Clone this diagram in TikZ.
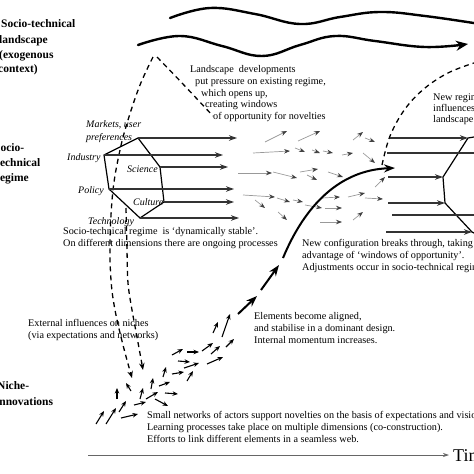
\documentclass[tikz,border=0pt]{standalone}
\usepackage{fontspec}
\setmainfont{Liberation Serif}
\usetikzlibrary{arrows.meta}
\tikzset{lvl/.style = {font=\fontsize{11.5}{15}\selectfont\bfseries, anchor=base west, inner sep=0}}
\tikzset{txt/.style = {font=\fontsize{10.2}{12}\selectfont, anchor=base west, inner sep=0}}
\tikzset{dim/.style = {font=\fontsize{10}{12}\selectfont\itshape, anchor=base west, inner sep=0}}
\tikzset{reg/.style = {draw=black!80, line width=1.2pt, -{Stealth[length=8pt,width=5.5pt]}}}
\tikzset{flow/.style = {draw=black!40, line width=0.7pt, -{Stealth[length=6pt,width=4.5pt,color=black!75]}}}
\tikzset{nich/.style = {line width=1.1pt, -{Stealth[length=5.5pt,width=4.5pt]}}}
\tikzset{dsh/.style = {line width=1.3pt, dash pattern=on 5pt off 4pt}}
\tikzset{wave/.style = {line width=2.4pt, line cap=round}}
\tikzset{traj/.style = {line width=2pt, -{Stealth[length=11pt,width=8pt]}}}

\begin{document}
\begin{tikzpicture}[x=1pt, y=-1pt]
  \useasboundingbox (0,0) rectangle (474,474);
  \clip (0,0) rectangle (474,474);

  % levels
  \node[lvl] (ls1) at (1,27) {Socio-technical};
  \node[lvl] (ls2) at (-1,43) {landscape};
  \node[lvl] (ls3) at (-1,58) {(exogenous};
  \node[lvl] (ls4) at (-2,72) {context)};
  \node[lvl] (rg1) at (-6,151) {Socio-};
  \node[lvl] (rg2) at (-4,166) {technical};
  \node[lvl] (rg3) at (-5,181) {regime};
  \node[lvl] (ni1) at (-3,389) {Niche-};
  \node[lvl] (ni2) at (-4,405) {innovations};

  % landscape
  \draw[wave] plot[smooth, tension=0.7] coordinates
    {(170,18) (210,8) (255,14) (300,24) (340,17) (380,12) (425,16) (480,24)};
  \draw[wave, -{Stealth[length=12pt,width=10pt]}] plot[smooth, tension=0.7] coordinates
    {(138,45) (180,36) (222,46) (262,56) (300,45) (335,36) (375,41) (425,47) (468,44)};

  \node[txt] (ld1) at (190,72) {Landscape\ \ developments};
  \node[txt] (ld2) at (195,84) {put pressure on existing regime,};
  \node[txt] (ld3) at (201,96) {which opens up,};
  \node[txt] (ld4) at (205,107) {creating windows};
  \node[txt] (ld5) at (213,119) {of opportunity for novelties};
  \node[txt] (nr1) at (433,100) {New regime};
  \node[txt] (nr2) at (433,111) {influences};
  \node[txt] (nr3) at (433,122) {landscape};

  % external influences
  \draw[dsh] plot[smooth, tension=0.6] coordinates {(157,57) (182,83) (213,116)};
  \draw[dsh, -{Stealth[length=7pt,width=5.5pt]}] plot[smooth, tension=0.6] coordinates
    {(153,57) (140,85) (128,120) (120,150) (113,190) (110,240) (111,280) (115,310) (123,345) (132,378)};
  \draw[dsh, -{Stealth[length=7pt,width=5.5pt]}] plot[smooth, tension=0.6] coordinates
    {(126,208) (127,250) (128,283) (132,310) (137,337) (143,370)};
  \draw[dsh] plot[smooth, tension=0.6] coordinates
    {(382,165) (390,136) (405,109) (425,88) (450,72) (480,61)};

  % old regime
  \coordinate (mk) at (138,138);
  \coordinate (in) at (104,155);
  \coordinate (sc) at (160,167);
  \coordinate (po) at (109,189);
  \coordinate (cu) at (164,202);
  \coordinate (te) at (140,218);
  \draw[line width=1.2pt] (mk) -- (sc) -- (cu) -- (te) -- (po) -- (in) -- cycle;
  \draw[reg] (mk) -- ++(99,0);
  \draw[reg] (in) -- ++(119,0);
  \draw[reg] (sc) -- ++(68,0);
  \draw[reg] (po) -- ++(125,0);
  \draw[reg] (cu) -- ++(70,0);
  \draw[reg] (te) -- ++(99,0);
  \node[dim] (dmk) at (86,127) {Markets, user};
  \node[dim] (dpr) at (86,140) {preferences};
  \node[dim] (din) at (67,160) {Industry};
  \node[dim] (dsc) at (127,172) {Science};
  \node[dim] (dpo) at (78,193) {Policy};
  \node[dim] (dcu) at (133,205) {Culture};
  \node[dim] (dte) at (88,224) {Technology};
  \node[txt] (st1) at (63,234) {Socio-technical regime\ \ is ‘dynamically stable’.};
  \node[txt] (st2) at (63,246) {On different dimensions there are ongoing processes};

  % windows of opportunity
  \foreach \xa/\ya/\xb/\yb in {265/142/287/131, 298/141/320/131, 253/153/290/151,
      295/148/305/152, 312/150/320/153, 323/151/333/153, 342/155/353/153,
      353/140/363/132, 365/138/375/142, 363/153/375/163, 238/173/272/173,
      273/172/297/178, 300/172/318/169, 307/175/317/180, 328/172/343/177,
      243/195/275/197, 255/200/265/208, 277/198/290/202, 293/200/303/202,
      278/212/287/220, 305/205/322/208, 322/198/340/197, 325/208/342/208,
      348/197/365/193, 365/198/383/199, 320/222/342/222, 353/220/363/212,
      375/187/385/177}
    \draw[flow] (\xa,\ya) -- (\xb,\yb);

  % new regime
  \coordinate (nmk) at (468,138);
  \coordinate (nsc) at (443,177);
  \coordinate (ncu) at (445,203);
  \coordinate (nte) at (472,232);
  \draw[line width=1.2pt] (480,136) -- (nmk) -- (nsc) -- (ncu) -- (nte) -- (480,236);
  \draw[reg] (390,138) -- (nmk);
  \draw[draw=black!80, line width=1.2pt] (387,153) -- (480,153);
  \draw[reg] (388,177) -- (nsc);
  \draw[reg] (388,203) -- (ncu);
  \draw[draw=black!80, line width=1.2pt] (392,215) -- (480,215);
  \draw[reg] (386,232) -- (nte);

  % niches
  \foreach \xa/\ya/\xb/\yb in {96/424/104/411, 106/424/116/408, 121/418/138/414,
      119/412/126/401, 134/405/146/402, 117/399/117/388, 131/391/126/383,
      140/399/143/388, 146/399/158/392, 155/399/168/406, 165/393/178/394,
      151/389/153/378, 159/386/170/382, 163/377/166/367, 172/374/184/372,
      187/381/193/371, 172/355/183/349, 178/361/190/362, 187/352/199/352,
      184/368/199/363, 202/351/213/343, 207/364/223/357, 211/354/220/346,
      213/333/218/322, 222/337/230/314, 226/347/234/339}
    \draw[nich] (\xa,\ya) -- (\xb,\yb);

  \draw[traj] (238,314) -- (257,296);
  \draw[traj] (261,290) -- (279,265);
  \draw[traj] (283,258) .. controls (305,205) and (340,170) .. (395,168);

  \node[txt] (nc1) at (302,246) {New configuration breaks through, taking};
  \node[txt] (nc2) at (302,258) {advantage of ‘windows of opportunity’.};
  \node[txt] (nc3) at (302,270) {Adjustments occur in socio-technical regime.};
  \node[txt] (el1) at (254,319) {Elements become aligned,};
  \node[txt] (el2) at (254,331) {and stabilise in a dominant design.};
  \node[txt] (el3) at (254,343) {Internal momentum increases.};
  \node[txt] (ex1) at (28,326) {External influences on niches};
  \node[txt] (ex2) at (28,338) {(via expectations and networks)};
  \node[txt] (sn1) at (147,418) {Small networks of actors support novelties on the basis of expectations and visions.};
  \node[txt] (sn2) at (147,430) {Learning processes take place on multiple dimensions (co-construction).};
  \node[txt] (sn3) at (147,442) {Efforts to link different elements in a seamless web.};

  % time
  \coordinate (t0) at (88,455);
  \node[anchor=base west, inner sep=0, font=\fontsize{18}{20}\selectfont] (tm) at (453,461) {Time};
  \draw[draw=black!60, line width=0.7pt, -{Stealth[length=6pt,width=4pt]}] (t0) -- ([xshift=-4pt]tm.west |- t0);
\end{tikzpicture}
\end{document}
